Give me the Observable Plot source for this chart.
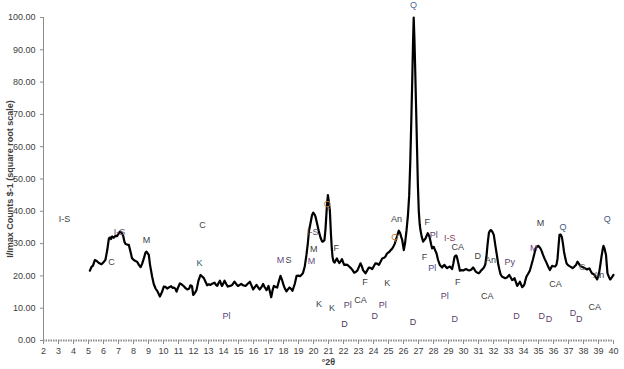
<!DOCTYPE html>
<html><head><meta charset="utf-8">
<script src="https://cdn.jsdelivr.net/npm/d3@7"></script>
<script src="https://cdn.jsdelivr.net/npm/@observablehq/plot@0.6"></script>
<style>body{margin:0;background:#fff;}</style>
</head><body><div id="chart"></div>
<script>
const twoTheta = [5.09,5.2,5.3,5.42,5.55,5.69,5.87,6.0,6.13,6.25,6.36,6.45,6.5,6.58,6.68,6.8,6.9,7.0,7.09,7.2,7.31,7.4,7.47,7.58,7.69,7.8,7.9,8.02,8.13,8.24,8.35,8.47,8.58,8.7,8.8,8.87,8.95,9.02,9.1,9.24,9.35,9.47,9.6,9.76,9.9,10.02,10.13,10.24,10.38,10.51,10.6,10.69,10.8,10.87,10.98,11.09,11.2,11.36,11.47,11.58,11.7,11.8,11.9,11.98,12.1,12.2,12.33,12.47,12.58,12.69,12.8,12.91,13.02,13.13,13.25,13.4,13.5,13.58,13.67,13.76,13.84,13.9,14.0,14.07,14.18,14.29,14.45,14.58,14.73,14.85,14.96,15.08,15.18,15.3,15.47,15.6,15.76,15.87,15.98,16.1,16.2,16.3,16.42,16.53,16.64,16.75,16.87,16.95,17.0,17.1,17.18,17.27,17.36,17.47,17.58,17.7,17.8,17.9,18.0,18.1,18.2,18.3,18.4,18.5,18.6,18.75,18.87,19.0,19.1,19.2,19.3,19.42,19.53,19.62,19.7,19.8,19.9,19.98,20.05,20.13,20.25,20.36,20.47,20.58,20.66,20.73,20.8,20.87,20.92,20.96,21.02,21.09,21.16,21.22,21.27,21.33,21.4,21.48,21.56,21.65,21.73,21.82,21.9,21.97,22.04,22.15,22.27,22.38,22.49,22.6,22.71,22.82,22.93,23.03,23.13,23.22,23.31,23.4,23.47,23.58,23.69,23.8,23.91,24.02,24.13,24.25,24.36,24.47,24.58,24.7,24.8,24.88,24.96,25.05,25.13,25.22,25.31,25.42,25.53,25.6,25.69,25.78,25.85,25.91,25.97,26.02,26.1,26.2,26.3,26.38,26.45,26.52,26.58,26.63,26.68,26.73,26.78,26.84,26.9,26.96,27.02,27.08,27.13,27.22,27.31,27.4,27.47,27.55,27.62,27.7,27.76,27.84,27.91,27.96,28.02,28.1,28.2,28.3,28.42,28.5,28.58,28.65,28.73,28.82,28.91,29.0,29.09,29.17,29.24,29.32,29.4,29.47,29.53,29.58,29.62,29.7,29.76,29.87,29.98,30.1,30.2,30.3,30.42,30.53,30.64,30.73,30.82,30.92,31.02,31.1,31.18,31.27,31.36,31.45,31.53,31.61,31.69,31.76,31.84,31.93,32.02,32.12,32.24,32.32,32.4,32.47,32.56,32.65,32.78,32.9,33.05,33.15,33.24,33.32,33.4,33.5,33.58,33.67,33.76,33.84,33.91,34.0,34.07,34.13,34.2,34.3,34.42,34.52,34.62,34.72,34.8,34.9,34.98,35.05,35.13,35.22,35.3,35.42,35.53,35.65,35.76,35.84,35.91,36.0,36.1,36.2,36.27,36.34,36.4,36.48,36.56,36.63,36.7,36.8,36.87,36.95,37.04,37.15,37.27,37.38,37.5,37.6,37.7,37.78,37.9,38.0,38.12,38.24,38.32,38.4,38.48,38.56,38.65,38.73,38.82,38.91,39.0,39.07,39.14,39.2,39.27,39.33,39.4,39.5,39.55,39.6,39.7,39.78,39.88,40.0];
const intensity = [21.6,22.8,23.2,24.9,24.6,24.0,23.6,24.2,25.0,28.0,31.6,31.9,31.4,32.2,31.8,32.4,32.3,33.0,33.7,33.4,32.4,30.5,29.9,29.7,29.6,27.5,25.5,24.9,24.6,24.4,23.5,22.7,23.8,25.6,27.2,27.5,27.0,26.5,23.5,19.8,17.5,16.1,15.2,13.6,15.0,16.7,16.6,16.1,16.5,16.8,16.3,16.4,16.0,15.1,16.5,17.7,17.4,16.8,16.2,15.8,16.0,17.1,16.8,14.1,14.8,15.6,18.5,20.3,19.8,19.3,18.2,17.1,17.4,17.2,17.6,17.9,17.2,16.9,17.8,18.5,17.5,16.9,17.8,18.5,17.5,16.7,16.9,17.2,18.2,17.5,16.9,17.2,17.5,17.1,16.9,17.5,18.2,17.0,15.8,16.6,17.2,16.5,15.8,16.5,17.5,16.5,15.6,16.3,16.9,15.0,13.4,15.5,16.9,16.6,16.4,18.5,20.0,18.8,17.2,16.0,15.2,15.9,16.4,16.0,15.4,17.5,20.0,20.1,19.9,20.3,20.9,23.0,26.5,30.0,34.0,36.3,38.8,39.6,39.2,38.4,36.0,33.7,31.8,30.6,30.7,31.1,34.5,39.9,43.0,45.0,43.0,40.3,33.2,28.5,25.9,24.5,24.1,24.8,25.4,24.5,24.0,24.6,25.2,24.3,23.4,23.5,23.4,22.9,22.4,21.8,21.0,21.2,21.7,22.8,23.9,23.0,21.7,21.2,20.8,21.7,22.6,22.5,22.1,23.0,23.9,23.8,23.4,24.4,25.4,25.6,26.0,26.8,27.2,27.4,27.9,28.3,28.9,30.0,31.6,32.8,34.0,33.2,32.0,31.2,29.5,28.0,30.0,34.0,39.0,45.0,55.0,68.0,80.0,91.0,100.0,93.0,84.0,72.0,60.0,48.0,40.0,36.0,34.2,32.0,30.6,31.2,31.6,32.5,33.2,32.5,31.6,29.8,28.5,28.8,29.0,28.0,27.0,25.0,23.4,23.0,22.6,23.1,23.4,22.8,22.4,22.7,22.9,22.5,22.1,23.8,25.8,26.3,26.3,25.5,24.7,23.0,21.6,21.8,21.7,22.0,22.1,21.8,21.7,22.0,22.6,22.0,21.3,21.0,20.8,21.2,21.7,22.1,22.6,23.5,26.0,30.0,33.2,34.0,34.2,33.6,32.7,29.5,26.0,23.5,21.8,20.5,19.8,19.6,19.3,19.5,20.3,19.5,18.7,18.9,19.3,18.0,16.9,17.5,18.2,17.3,16.5,16.9,17.5,18.7,19.8,20.6,21.6,23.2,24.9,26.8,28.5,29.0,29.3,29.0,28.5,27.6,26.5,25.2,24.1,22.8,21.8,22.5,23.1,23.0,22.9,23.5,25.4,29.5,32.7,32.8,32.0,30.0,27.5,25.2,23.9,23.4,23.1,22.8,22.4,22.8,23.4,24.4,23.7,23.1,22.8,22.6,22.3,22.0,22.2,22.3,21.5,20.8,20.6,20.3,19.6,18.9,20.0,21.8,24.0,26.0,28.0,29.3,28.5,26.5,23.5,20.8,19.6,18.9,19.5,20.3];

const labelText  = ["I-S","C","I-S","M","C","K","Pl","M","S","I-S","M","M","Q","F","K","K","Pl","CA","D","F","K","Pl","D","An","Q","D","F","F","Q","Pl","Pl","I-S","CA","F","Pl","D","D","An","CA","Py","D","M","M","Q","CA","D","D","D","D","Q","CA","C","An"];
const labelX     = [3.4,6.53,7.07,8.87,12.6,12.4,14.2,17.8,18.33,19.95,20.02,19.87,20.91,21.51,20.36,21.24,22.29,23.13,22.07,23.44,24.91,24.62,24.09,25.53,25.42,26.64,27.58,27.4,26.67,28.02,27.91,29.08,29.62,29.62,28.75,29.42,30.95,31.8,31.58,33.09,33.53,35.13,34.69,36.64,36.13,35.22,35.7,37.3,37.72,39.58,38.75,37.91,39.02];
const labelY     = [37.6,24.3,33.6,31.1,35.8,24.0,7.6,24.8,24.8,33.7,28.3,24.7,42.3,28.7,11.3,10.0,11.0,12.5,5.1,18.2,17.9,11.1,7.4,37.5,32.0,5.6,36.5,25.9,103.9,32.5,22.4,31.6,28.8,18.2,13.6,6.7,26.2,24.9,13.8,24.2,7.4,36.3,28.5,35.0,17.5,7.6,6.5,8.4,6.5,37.5,10.2,22.7,20.3];
const labelColor = ["#404040","#404040","#5a4a6a","#404040","#404040","#2f5a66","#5b3f6e","#6a4a86","#404040","#5a4a6a","#404040","#6a4a86","#b87a40","#404040","#2f4a5a","#2f4a5a","#5b3f6e","#404040","#4a3a5a","#404040","#404040","#5b3f6e","#5b3f6e","#404040","#b87a40","#4a3a5a","#404040","#404040","#4a6a90","#5b3f6e","#4a4a8a","#8a3a5a","#404040","#404040","#5b3f6e","#5b3f6e","#404040","#404040","#404040","#5b3f6e","#5b3f6e","#404040","#6a4a86","#3d5a80","#404040","#5b3f6e","#5b3f6e","#5b3f6e","#5b3f6e","#3d5a80","#404040","#6a6a6a","#404040"];

const yTicks = d3.range(0, 101, 10);
const xTicks = d3.range(2, 41, 1);

const pattern = twoTheta.map((t, i) => ({t, v: intensity[i]}));
const labels = labelText.map((s, i) => ({s, x: labelX[i], y: labelY[i], c: labelColor[i]}));

const chart = Plot.plot({
  width: 624,
  height: 369,
  marginLeft: 43,
  marginRight: 11,
  marginTop: 17,
  marginBottom: 29,
  style: {fontFamily: "'Liberation Sans', Arial, sans-serif", fontSize: "9px", color: "#404040", background: "#fff"},
  x: {domain: [2, 40]},
  y: {domain: [0, 100]},
  color: {type: "identity"},
  marks: [
    Plot.ruleX([2], {stroke: "#8c8c8c", strokeWidth: 1}),
    Plot.ruleY([0], {stroke: "#8c8c8c", strokeWidth: 2, strokeDasharray: "1.5,1"}),
    Plot.axisY({ticks: yTicks, tickFormat: d => d.toFixed(2), tickSize: 3, tickPadding: 5, stroke: "#8c8c8c", label: null}),
    Plot.axisX({ticks: xTicks, tickFormat: d => String(d), tickSize: 4, tickPadding: 3, stroke: "#8c8c8c", label: null}),
    Plot.line(pattern, {x: "t", y: "v", stroke: "#000", strokeWidth: 2.2, curve: "linear"}),
    Plot.text(labels, {x: "x", y: "y", text: "s", fill: "c", fontSize: 9}),
    Plot.text(["I/Imax Counts $-1 (square root scale)"], {frameAnchor: "left", textAnchor: "middle", lineAnchor: "middle", rotate: -90, dx: -33, fontWeight: "bold", fontSize: 9, fill: "#404040"}),
    Plot.text(["°2θ"], {frameAnchor: "bottom", textAnchor: "middle", lineAnchor: "middle", dy: 22, fontWeight: "bold", fontSize: 9, fill: "#404040"})
  ]
});
document.getElementById("chart").appendChild(chart);
</script>
</body></html>
